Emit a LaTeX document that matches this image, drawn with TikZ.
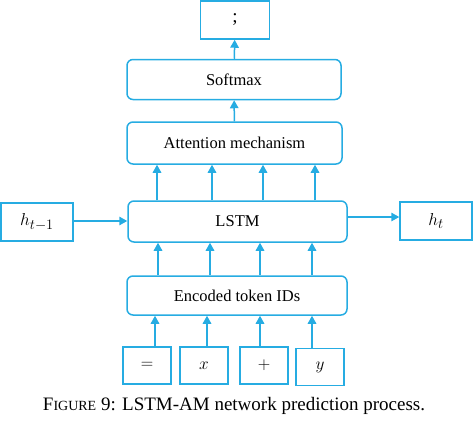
\documentclass[tikz,border=0pt]{standalone}
\usepackage{fontspec}
\setmainfont{Liberation Serif}
\usetikzlibrary{arrows.meta}
\definecolor{linkblue}{RGB}{38,172,226}
\newcommand{\fakesc}[2]{#1{\fontsize{14}{16}\selectfont #2}}
\tikzset{
  box/.style={draw=linkblue, line width=1.5pt, rounded corners=6pt, minimum width=214pt, minimum height=40pt, inner sep=0pt, font=\fontsize{16.5}{18}\selectfont},
  sqbox/.style={draw=linkblue, line width=1.5pt, minimum width=72pt, minimum height=38pt, inner sep=0pt, font=\fontsize{19}{21}\selectfont},
  tokbox/.style={sqbox, minimum width=48pt, minimum height=37pt},
  flow/.style={draw=linkblue, line width=1.5pt, -{Triangle[length=8pt,width=8.5pt]}}
}
\begin{document}
\begin{tikzpicture}[x=1pt, y=-1pt]
      \useasboundingbox (0,0) rectangle (474,421);
      \draw
        (235,20) node[sqbox, minimum width=69pt] (out){;}
        (234,79.5) node[box] (soft){Softmax}
        (234.5,143) node[box, minimum width=215pt, minimum height=42pt] (att){Attention mechanism}
        (237.5,221.5) node[box, minimum width=219pt, minimum height=41pt] (lstm){LSTM}
        (237,295.5) node[box, minimum width=220pt, minimum height=39pt] (enc){Encoded token IDs}
        (37,222) node[sqbox] (hprev){$h_{t-1}$}
        (436,221) node[sqbox] (hnext){$h_t$}
        (147,365.5) node[tokbox] (eq){$=$}
        (204,365.5) node[tokbox] (ex){$x$}
        (264,365.5) node[tokbox] (pl){$+$}
        (320,367) node[tokbox] (ey){$y$};
      \begin{scope}[flow]
        \draw (soft) to (out);
        \draw (att) to (soft);
        \draw (hprev.east |- 0,221) to (lstm.west |- 0,221);
        \draw (lstm.east |- 0,217) to (hnext.west |- 0,217);
        \foreach \x in {157,212,263,315}
          \draw (\x,0 |- lstm.north) to (\x,0 |- att.south);
        \foreach \x in {158,210,260,312}
          \draw (\x,0 |- enc.north) to (\x,0 |- lstm.south);
        \foreach \n/\x in {eq/155,ex/207,pl/260,ey/312}
          \draw (\x,0 |- \n.north) to (\x,0 |- enc.south);
      \end{scope}
      \node[anchor=base, font=\fontsize{19}{21}\selectfont] (cap) at (234,410)
        {\fakesc{F}{IGURE} 9: LSTM-AM network prediction process.};
    \end{tikzpicture}
\end{document}
